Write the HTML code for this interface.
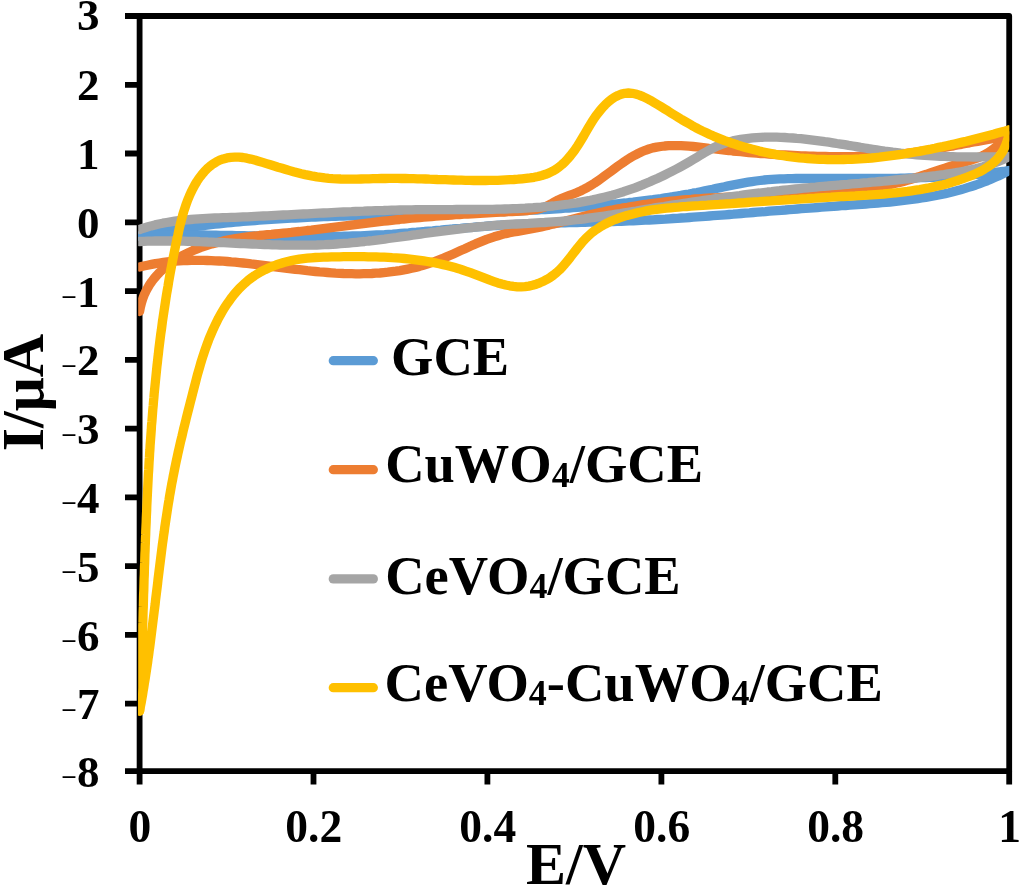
<!DOCTYPE html>
<html><head><meta charset="utf-8"><style>
html,body{margin:0;padding:0;background:#fff;}
svg{display:block;}
.t{font-family:"Liberation Serif",serif;font-weight:bold;font-size:45px;fill:#000;}
.tx{font-family:"Liberation Serif",serif;font-weight:bold;font-size:45.5px;fill:#000;}
.m{font-family:"Liberation Serif",serif;font-weight:bold;font-size:25px;fill:#000;}
.lg{font-family:"Liberation Serif",serif;font-weight:bold;font-size:54.5px;fill:#000;}
.sub{font-size:36px;}
.ti{font-family:"Liberation Serif",serif;font-weight:bold;font-size:60px;fill:#000;}
</style></head><body>
<svg width="1020" height="887" viewBox="0 0 1020 887">
<rect width="1020" height="887" fill="#fff"/>
<path d="M139.6,16.0 H1009.2 V771.1 H139.6 Z" fill="none" stroke="#000" stroke-width="5.8" stroke-linejoin="round"/>
<path d="M125,771.1 H139.6 M125,703.7 H139.6 M125,634.9 H139.6 M125,566.2 H139.6 M125,497.4 H139.6 M125,428.6 H139.6 M125,359.8 H139.6 M125,291.1 H139.6 M125,222.3 H139.6 M125,153.5 H139.6 M125,84.8 H139.6 M125,16.0 H139.6 M139.6,771.1 V784.5 M313.5,771.1 V784.5 M487.4,771.1 V784.5 M661.4,771.1 V784.5 M835.3,771.1 V784.5 M1009.2,771.1 V784.5" stroke="#000" stroke-width="5.8" fill="none"/>
<defs><clipPath id="pa"><rect x="138.2" y="16" width="871" height="755"/></clipPath></defs>
<g fill="none" stroke-width="9.3" stroke-linecap="round" stroke-linejoin="round" clip-path="url(#pa)">
<path d="M139.6,236.0 L143.5,235.2 L147.5,234.4 L151.4,233.6 L155.4,232.9 L159.3,232.2 L163.3,231.5 L167.3,230.8 L171.2,230.2 L175.2,229.5 L179.2,228.9 L183.1,228.3 L187.1,227.7 L191.1,227.2 L195.1,226.6 L199.0,226.1 L203.0,225.6 L207.0,225.1 L211.0,224.6 L215.0,224.2 L219.0,223.8 L223.0,223.3 L227.0,222.9 L231.0,222.5 L235.0,222.1 L239.0,221.8 L243.0,221.4 L247.0,221.1 L251.0,220.8 L255.0,220.5 L259.1,220.2 L263.1,219.9 L267.1,219.6 L271.1,219.3 L275.1,219.1 L279.1,218.8 L283.2,218.6 L287.2,218.4 L291.2,218.2 L295.2,218.0 L299.3,217.8 L303.3,217.6 L307.3,217.4 L311.3,217.2 L315.4,217.0 L319.4,216.9 L323.4,216.7 L327.5,216.6 L331.5,216.4 L335.5,216.3 L339.6,216.2 L343.6,216.0 L347.6,215.9 L351.6,215.8 L355.7,215.7 L359.7,215.6 L363.7,215.5 L367.8,215.4 L371.8,215.3 L375.8,215.2 L379.9,215.0 L383.9,214.9 L387.9,214.8 L392.0,214.8 L396.0,214.7 L400.0,214.6 L404.1,214.5 L408.1,214.4 L412.1,214.3 L416.1,214.2 L420.2,214.1 L424.2,214.0 L428.2,213.9 L432.3,213.8 L436.3,213.7 L440.3,213.6 L444.3,213.5 L448.4,213.4 L452.4,213.2 L456.4,213.1 L460.4,213.0 L464.5,212.9 L468.5,212.8 L472.5,212.6 L476.5,212.5 L480.6,212.4 L484.6,212.2 L488.6,212.1 L492.6,212.0 L496.6,211.8 L500.7,211.6 L504.7,211.5 L508.7,211.3 L512.7,211.1 L516.7,211.0 L520.8,210.8 L524.8,210.6 L528.8,210.4 L532.8,210.2 L536.8,210.0 L540.9,209.7 L544.9,209.5 L548.9,209.3 L552.9,209.0 L556.9,208.8 L560.9,208.5 L564.9,208.2 L569.0,208.0 L573.0,207.7 L577.0,207.4 L581.0,207.1 L585.0,206.8 L589.0,206.4 L593.0,206.1 L597.0,205.7 L601.0,205.4 L605.0,205.0 L609.0,204.6 L613.0,204.2 L617.0,203.8 L621.0,203.4 L625.1,203.0 L629.1,202.5 L633.1,202.1 L637.1,201.6 L641.1,201.1 L645.0,200.6 L649.0,200.1 L653.0,199.6 L657.0,199.0 L661.0,198.5 L665.0,197.9 L669.0,197.3 L673.0,196.7 L676.9,196.0 L680.9,195.4 L684.9,194.7 L688.9,194.0 L692.8,193.2 L696.8,192.5 L700.7,191.7 L704.7,190.9 L708.6,190.1 L712.6,189.3 L716.5,188.4 L720.5,187.6 L724.4,186.8 L728.3,185.9 L732.3,185.1 L736.2,184.4 L740.2,183.6 L744.1,182.9 L748.1,182.2 L752.0,181.6 L756.0,181.0 L760.0,180.5 L763.9,180.0 L767.9,179.7 L771.9,179.4 L775.9,179.1 L779.9,178.9 L784.0,178.8 L788.0,178.7 L792.0,178.6 L796.0,178.5 L800.1,178.5 L804.1,178.5 L808.1,178.5 L812.2,178.4 L816.2,178.4 L820.2,178.4 L824.2,178.4 L828.3,178.4 L832.3,178.4 L836.3,178.4 L840.4,178.4 L844.4,178.4 L848.4,178.5 L852.5,178.5 L856.5,178.5 L860.5,178.5 L864.6,178.5 L868.6,178.5 L872.6,178.4 L876.6,178.4 L880.7,178.4 L884.7,178.4 L888.7,178.3 L892.8,178.3 L896.8,178.3 L900.8,178.2 L904.8,178.1 L908.9,178.0 L912.9,177.9 L916.9,177.8 L920.9,177.7 L925.0,177.6 L929.0,177.4 L933.0,177.3 L937.0,177.1 L941.0,176.9 L945.1,176.7 L949.1,176.5 L953.1,176.2 L957.1,176.0 L961.1,175.7 L965.1,175.4 L969.1,175.1 L973.2,174.7 L977.2,174.3 L981.2,174.0 L985.2,173.5 L989.2,173.1 L993.2,172.6 L997.2,172.1 L1001.2,171.6 L1005.2,171.1 L1009.2,170.5" stroke="#5B9BD5" />
<path d="M1009.2,170.5 L1005.6,172.4 L1001.9,174.2 L998.3,176.0 L994.6,177.6 L990.9,179.2 L987.2,180.8 L983.4,182.2 L979.7,183.6 L975.9,185.0 L972.1,186.2 L968.3,187.4 L964.5,188.6 L960.7,189.7 L956.8,190.7 L953.0,191.7 L949.1,192.7 L945.2,193.6 L941.3,194.4 L937.4,195.2 L933.5,196.0 L929.6,196.7 L925.7,197.4 L921.7,198.0 L917.8,198.6 L913.8,199.2 L909.8,199.7 L905.8,200.2 L901.9,200.7 L897.9,201.2 L893.9,201.6 L889.9,202.0 L885.9,202.4 L881.9,202.7 L877.8,203.1 L873.8,203.4 L869.8,203.7 L865.8,204.0 L861.8,204.3 L857.7,204.6 L853.7,204.9 L849.7,205.2 L845.6,205.5 L841.6,205.7 L837.6,206.0 L833.6,206.3 L829.5,206.6 L825.5,206.9 L821.5,207.2 L817.5,207.5 L813.4,207.8 L809.4,208.1 L805.4,208.4 L801.4,208.7 L797.4,209.0 L793.4,209.3 L789.3,209.6 L785.3,210.0 L781.3,210.3 L777.3,210.6 L773.3,210.9 L769.3,211.2 L765.3,211.6 L761.3,211.9 L757.3,212.2 L753.3,212.5 L749.3,212.9 L745.3,213.2 L741.3,213.5 L737.3,213.8 L733.3,214.2 L729.3,214.5 L725.3,214.8 L721.3,215.1 L717.3,215.4 L713.3,215.7 L709.3,216.0 L705.3,216.3 L701.3,216.6 L697.3,216.9 L693.3,217.2 L689.3,217.5 L685.3,217.8 L681.3,218.0 L677.3,218.3 L673.3,218.5 L669.3,218.8 L665.3,219.1 L661.2,219.3 L657.2,219.5 L653.2,219.8 L649.2,220.0 L645.2,220.2 L641.2,220.4 L637.2,220.6 L633.2,220.8 L629.2,220.9 L625.2,221.1 L621.2,221.3 L617.2,221.4 L613.2,221.6 L609.2,221.7 L605.1,221.8 L601.1,221.9 L597.1,222.0 L593.1,222.1 L589.1,222.2 L585.1,222.3 L581.0,222.4 L577.0,222.5 L573.0,222.6 L569.0,222.7 L565.0,222.8 L561.0,222.9 L556.9,223.0 L552.9,223.1 L548.9,223.2 L544.9,223.3 L540.9,223.5 L536.8,223.6 L532.8,223.7 L528.8,223.9 L524.8,224.0 L520.8,224.2 L516.8,224.4 L512.8,224.6 L508.7,224.8 L504.7,225.0 L500.7,225.2 L496.7,225.5 L492.7,225.7 L488.7,226.0 L484.7,226.3 L480.7,226.6 L476.7,226.9 L472.7,227.3 L468.7,227.6 L464.6,227.9 L460.6,228.3 L456.6,228.6 L452.6,229.0 L448.6,229.3 L444.6,229.7 L440.6,230.1 L436.6,230.4 L432.6,230.8 L428.6,231.1 L424.6,231.5 L420.6,231.8 L416.6,232.2 L412.6,232.5 L408.6,232.9 L404.6,233.2 L400.6,233.5 L396.6,233.8 L392.6,234.1 L388.6,234.3 L384.6,234.6 L380.6,234.8 L376.6,235.0 L372.6,235.2 L368.6,235.4 L364.5,235.6 L360.5,235.8 L356.5,235.9 L352.5,236.0 L348.5,236.1 L344.5,236.2 L340.5,236.3 L336.5,236.4 L332.5,236.5 L328.4,236.5 L324.4,236.6 L320.4,236.6 L316.4,236.6 L312.4,236.6 L308.4,236.6 L304.3,236.6 L300.3,236.6 L296.3,236.6 L292.3,236.5 L288.3,236.5 L284.2,236.4 L280.2,236.4 L276.2,236.3 L272.2,236.3 L268.2,236.2 L264.1,236.1 L260.1,236.1 L256.1,236.0 L252.1,235.9 L248.1,235.8 L244.0,235.7 L240.0,235.7 L236.0,235.6 L232.0,235.5 L228.0,235.4 L223.9,235.3 L219.9,235.3 L215.9,235.2 L211.9,235.1 L207.9,235.1 L203.9,235.0 L199.8,235.0 L195.8,234.9 L191.8,234.9 L187.8,234.9 L183.8,234.9 L179.7,234.9 L175.7,234.9 L171.7,234.9 L167.7,235.0 L163.7,235.1 L159.7,235.2 L155.7,235.3 L151.6,235.4 L147.6,235.6 L143.6,235.8 L139.6,236.0" stroke="#5B9BD5" />
<path d="M139.6,311.5 L140.4,307.2 L141.4,303.1 L142.6,299.1 L144.0,295.3 L145.7,291.7 L147.6,288.1 L149.6,284.7 L151.8,281.5 L154.2,278.4 L156.8,275.4 L159.5,272.5 L162.3,269.8 L165.3,267.2 L168.4,264.7 L171.6,262.4 L174.9,260.1 L178.3,258.0 L181.8,256.0 L185.4,254.2 L189.0,252.4 L192.7,250.7 L196.5,249.2 L200.2,247.7 L204.1,246.4 L207.9,245.1 L211.8,243.9 L215.7,242.9 L219.7,241.9 L223.6,240.9 L227.6,240.1 L231.6,239.3 L235.6,238.6 L239.5,238.0 L243.5,237.4 L247.5,236.9 L251.5,236.4 L255.4,236.0 L259.4,235.5 L263.4,235.1 L267.4,234.7 L271.4,234.4 L275.3,234.0 L279.3,233.6 L283.3,233.2 L287.3,232.8 L291.3,232.4 L295.3,231.9 L299.3,231.5 L303.3,231.0 L307.3,230.5 L311.3,230.1 L315.3,229.6 L319.3,229.1 L323.3,228.6 L327.3,228.1 L331.3,227.6 L335.3,227.1 L339.3,226.6 L343.3,226.1 L347.3,225.6 L351.3,225.1 L355.3,224.6 L359.3,224.1 L363.4,223.6 L367.4,223.1 L371.4,222.7 L375.4,222.2 L379.4,221.7 L383.4,221.2 L387.4,220.8 L391.5,220.3 L395.5,219.9 L399.5,219.5 L403.5,219.0 L407.5,218.6 L411.5,218.2 L415.6,217.8 L419.6,217.5 L423.6,217.1 L427.6,216.8 L431.6,216.5 L435.6,216.1 L439.6,215.8 L443.7,215.6 L447.7,215.3 L451.7,215.0 L455.7,214.7 L459.7,214.5 L463.7,214.2 L467.8,214.0 L471.8,213.8 L475.8,213.5 L479.8,213.3 L483.8,213.1 L487.9,212.8 L491.9,212.6 L495.9,212.4 L499.9,212.2 L503.9,212.0 L508.0,211.7 L512.0,211.5 L516.0,211.3 L520.1,211.0 L524.1,210.8 L528.1,210.5 L532.1,210.0 L536.0,209.4 L539.9,208.5 L543.7,207.4 L547.4,205.8 L551.0,203.9 L554.6,201.8 L558.2,199.9 L561.9,198.3 L565.7,196.8 L569.4,195.4 L573.2,194.0 L576.9,192.6 L580.5,191.0 L584.1,189.2 L587.6,187.3 L591.1,185.2 L594.5,183.1 L597.9,180.8 L601.2,178.5 L604.5,176.1 L607.8,173.6 L611.1,171.2 L614.4,168.7 L617.7,166.3 L621.0,164.0 L624.4,161.6 L627.7,159.4 L631.1,157.3 L634.6,155.3 L638.1,153.5 L641.7,151.8 L645.3,150.3 L649.0,149.0 L652.8,147.9 L656.7,147.1 L660.7,146.5 L664.7,146.0 L668.7,145.7 L672.8,145.6 L676.9,145.6 L681.0,145.7 L685.1,145.9 L689.1,146.2 L693.1,146.5 L697.1,146.9 L701.1,147.3 L705.1,147.8 L709.0,148.3 L713.0,148.7 L716.9,149.2 L720.9,149.7 L724.8,150.1 L728.8,150.5 L732.8,151.0 L736.8,151.4 L740.8,151.7 L744.8,152.1 L748.8,152.5 L752.8,152.8 L756.8,153.1 L760.9,153.5 L764.9,153.7 L768.9,154.0 L773.0,154.3 L777.0,154.6 L781.0,154.8 L785.1,155.0 L789.1,155.2 L793.2,155.4 L797.2,155.6 L801.2,155.8 L805.3,155.9 L809.3,156.1 L813.4,156.2 L817.4,156.3 L821.4,156.4 L825.5,156.5 L829.5,156.6 L833.5,156.6 L837.6,156.6 L841.6,156.7 L845.6,156.6 L849.6,156.6 L853.7,156.6 L857.7,156.5 L861.7,156.4 L865.7,156.3 L869.7,156.1 L873.7,155.9 L877.7,155.7 L881.7,155.5 L885.8,155.2 L889.8,154.9 L893.8,154.6 L897.8,154.2 L901.8,153.8 L905.8,153.4 L909.8,152.9 L913.8,152.4 L917.7,151.8 L921.7,151.2 L925.7,150.6 L929.7,150.0 L933.7,149.3 L937.7,148.6 L941.7,147.9 L945.7,147.2 L949.6,146.5 L953.6,145.8 L957.6,145.0 L961.6,144.3 L965.5,143.5 L969.5,142.8 L973.5,142.0 L977.5,141.3 L981.4,140.6 L985.4,139.9 L989.4,139.2 L993.3,138.5 L997.3,137.8 L1001.3,137.2 L1005.2,136.6 L1009.2,136.0" stroke="#ED7D31" />
<path d="M1009.2,136.0 L1006.1,138.6 L1003.0,141.2 L999.9,143.8 L996.7,146.4 L993.5,148.9 L990.3,151.3 L986.9,153.4 L983.5,155.3 L979.9,156.9 L976.2,158.4 L972.4,159.7 L968.6,160.8 L964.8,162.0 L960.9,163.1 L957.1,164.2 L953.2,165.4 L949.4,166.6 L945.6,167.9 L941.7,169.1 L937.9,170.4 L934.1,171.7 L930.3,173.0 L926.5,174.3 L922.6,175.5 L918.8,176.8 L915.0,178.0 L911.1,179.2 L907.3,180.3 L903.4,181.4 L899.5,182.4 L895.6,183.3 L891.7,184.2 L887.7,185.1 L883.8,185.8 L879.8,186.6 L875.9,187.2 L871.9,187.9 L867.9,188.5 L864.0,189.0 L860.0,189.6 L856.0,190.1 L852.0,190.5 L848.0,191.0 L844.0,191.4 L840.0,191.8 L836.0,192.1 L832.0,192.5 L828.0,192.8 L824.0,193.1 L820.0,193.4 L816.0,193.6 L812.0,193.9 L808.0,194.1 L804.0,194.3 L799.9,194.5 L795.9,194.7 L791.9,194.9 L787.9,195.0 L783.9,195.2 L779.8,195.3 L775.8,195.5 L771.8,195.6 L767.8,195.7 L763.7,195.9 L759.7,196.0 L755.7,196.1 L751.7,196.3 L747.6,196.4 L743.6,196.5 L739.6,196.7 L735.6,196.8 L731.5,197.0 L727.5,197.2 L723.5,197.4 L719.5,197.6 L715.4,197.8 L711.4,198.0 L707.4,198.2 L703.4,198.5 L699.3,198.8 L695.3,199.0 L691.3,199.4 L687.3,199.7 L683.3,200.0 L679.3,200.4 L675.3,200.8 L671.3,201.2 L667.2,201.7 L663.2,202.1 L659.2,202.6 L655.3,203.1 L651.3,203.6 L647.3,204.2 L643.3,204.7 L639.3,205.3 L635.3,206.0 L631.4,206.6 L627.4,207.3 L623.4,207.9 L619.5,208.7 L615.5,209.4 L611.6,210.2 L607.6,210.9 L603.7,211.8 L599.8,212.6 L595.8,213.5 L591.9,214.4 L588.0,215.3 L584.1,216.2 L580.2,217.2 L576.3,218.2 L572.4,219.2 L568.5,220.2 L564.6,221.2 L560.7,222.2 L556.8,223.2 L552.9,224.1 L549.0,225.1 L545.1,226.0 L541.2,226.9 L537.3,227.7 L533.3,228.5 L529.4,229.2 L525.4,229.9 L521.4,230.6 L517.5,231.3 L513.5,232.0 L509.6,232.8 L505.7,233.6 L501.8,234.6 L498.0,235.7 L494.2,236.8 L490.4,238.1 L486.6,239.4 L482.9,240.9 L479.2,242.4 L475.5,243.9 L471.8,245.6 L468.1,247.2 L464.4,248.9 L460.7,250.5 L457.0,252.2 L453.3,253.9 L449.7,255.5 L445.9,257.1 L442.2,258.7 L438.5,260.1 L434.7,261.6 L430.9,262.9 L427.1,264.1 L423.2,265.3 L419.4,266.4 L415.5,267.4 L411.6,268.3 L407.7,269.1 L403.7,269.9 L399.8,270.6 L395.8,271.2 L391.8,271.7 L387.8,272.2 L383.8,272.6 L379.8,273.0 L375.8,273.2 L371.8,273.5 L367.7,273.6 L363.7,273.7 L359.7,273.8 L355.7,273.8 L351.7,273.7 L347.6,273.6 L343.6,273.5 L339.6,273.3 L335.6,273.1 L331.6,272.8 L327.5,272.5 L323.5,272.2 L319.5,271.9 L315.5,271.5 L311.5,271.1 L307.4,270.7 L303.4,270.2 L299.4,269.7 L295.4,269.3 L291.4,268.8 L287.3,268.3 L283.3,267.8 L279.3,267.3 L275.3,266.8 L271.3,266.3 L267.3,265.8 L263.3,265.3 L259.3,264.8 L255.2,264.3 L251.2,263.9 L247.2,263.4 L243.2,263.0 L239.2,262.6 L235.2,262.2 L231.2,261.9 L227.2,261.5 L223.2,261.2 L219.2,261.0 L215.2,260.8 L211.2,260.6 L207.2,260.5 L203.2,260.4 L199.2,260.3 L195.3,260.3 L191.3,260.4 L187.3,260.5 L183.3,260.7 L179.3,260.9 L175.3,261.2 L171.4,261.5 L167.4,261.9 L163.4,262.4 L159.4,263.0 L155.5,263.6 L151.5,264.4 L147.5,265.2 L143.6,266.0 L139.6,267.0" stroke="#ED7D31" />
<path d="M139.6,229.5 L143.4,228.2 L147.3,227.0 L151.1,225.9 L155.0,224.9 L158.9,224.0 L162.8,223.2 L166.8,222.5 L170.7,221.8 L174.7,221.2 L178.7,220.7 L182.7,220.3 L186.7,219.8 L190.7,219.5 L194.7,219.2 L198.7,218.9 L202.8,218.6 L206.8,218.4 L210.9,218.2 L214.9,218.0 L219.0,217.9 L223.0,217.7 L227.1,217.6 L231.1,217.4 L235.1,217.3 L239.2,217.1 L243.2,216.9 L247.3,216.8 L251.3,216.6 L255.3,216.4 L259.3,216.2 L263.4,216.0 L267.4,215.8 L271.4,215.6 L275.4,215.4 L279.4,215.2 L283.4,215.0 L287.5,214.8 L291.5,214.6 L295.5,214.4 L299.5,214.2 L303.5,214.0 L307.5,213.8 L311.5,213.6 L315.5,213.4 L319.5,213.2 L323.5,213.0 L327.5,212.8 L331.5,212.6 L335.5,212.4 L339.5,212.2 L343.5,212.0 L347.5,211.8 L351.5,211.7 L355.5,211.5 L359.5,211.3 L363.6,211.2 L367.6,211.0 L371.6,210.9 L375.6,210.7 L379.6,210.6 L383.6,210.5 L387.6,210.3 L391.6,210.2 L395.7,210.1 L399.7,210.0 L403.7,209.9 L407.7,209.9 L411.8,209.8 L415.8,209.7 L419.8,209.7 L423.9,209.6 L427.9,209.6 L432.0,209.6 L436.0,209.6 L440.1,209.6 L444.1,209.6 L448.2,209.6 L452.2,209.6 L456.3,209.5 L460.3,209.5 L464.4,209.5 L468.5,209.5 L472.5,209.5 L476.6,209.5 L480.6,209.4 L484.7,209.4 L488.7,209.4 L492.8,209.3 L496.8,209.2 L500.9,209.1 L504.9,209.0 L508.9,208.9 L513.0,208.7 L517.0,208.6 L521.0,208.4 L525.1,208.2 L529.1,207.9 L533.1,207.7 L537.1,207.4 L541.1,207.1 L545.1,206.7 L549.1,206.4 L553.1,206.0 L557.1,205.5 L561.1,205.0 L565.0,204.5 L569.0,204.0 L572.9,203.4 L576.9,202.8 L580.8,202.1 L584.7,201.4 L588.7,200.7 L592.6,199.9 L596.5,199.0 L600.4,198.1 L604.2,197.2 L608.1,196.2 L612.0,195.2 L615.8,194.1 L619.7,192.9 L623.5,191.7 L627.3,190.4 L631.1,189.1 L634.9,187.8 L638.7,186.3 L642.4,184.9 L646.2,183.3 L649.9,181.8 L653.6,180.1 L657.3,178.5 L661.0,176.8 L664.7,175.0 L668.3,173.2 L671.9,171.4 L675.5,169.5 L679.1,167.6 L682.7,165.6 L686.2,163.6 L689.7,161.6 L693.2,159.5 L696.7,157.4 L700.2,155.3 L703.6,153.2 L707.1,151.2 L710.6,149.3 L714.2,147.5 L717.8,145.8 L721.5,144.4 L725.2,143.1 L729.0,141.9 L732.8,140.9 L736.7,140.1 L740.6,139.4 L744.6,138.8 L748.6,138.3 L752.5,137.9 L756.6,137.6 L760.6,137.4 L764.6,137.2 L768.6,137.2 L772.7,137.2 L776.7,137.2 L780.7,137.4 L784.7,137.5 L788.7,137.8 L792.7,138.0 L796.7,138.4 L800.8,138.7 L804.8,139.1 L808.8,139.6 L812.8,140.1 L816.8,140.6 L820.8,141.1 L824.8,141.7 L828.8,142.2 L832.8,142.8 L836.8,143.5 L840.8,144.1 L844.8,144.7 L848.7,145.4 L852.7,146.0 L856.7,146.7 L860.7,147.4 L864.7,148.0 L868.7,148.7 L872.7,149.3 L876.7,149.9 L880.7,150.5 L884.7,151.1 L888.7,151.6 L892.7,152.2 L896.7,152.7 L900.7,153.2 L904.7,153.6 L908.7,154.0 L912.7,154.4 L916.7,154.8 L920.7,155.1 L924.7,155.4 L928.7,155.6 L932.8,155.9 L936.8,156.1 L940.8,156.3 L944.8,156.4 L948.8,156.6 L952.8,156.7 L956.9,156.8 L960.9,156.8 L964.9,156.9 L968.9,156.9 L972.9,157.0 L977.0,157.0 L981.0,156.9 L985.0,156.9 L989.0,156.9 L993.1,156.8 L997.1,156.8 L1001.1,156.7 L1005.2,156.6 L1009.2,156.5" stroke="#A5A5A5" />
<path d="M1009.2,156.5 L1005.6,158.3 L1002.0,159.9 L998.3,161.4 L994.5,162.9 L990.8,164.2 L987.0,165.4 L983.2,166.6 L979.4,167.7 L975.5,168.7 L971.6,169.6 L967.7,170.4 L963.8,171.2 L959.8,172.0 L955.9,172.7 L951.9,173.3 L947.9,173.9 L943.9,174.5 L939.9,175.0 L935.9,175.6 L931.9,176.1 L927.9,176.6 L923.9,177.0 L919.9,177.5 L915.9,178.0 L911.9,178.4 L907.9,178.8 L903.9,179.2 L899.9,179.6 L895.9,180.0 L891.9,180.4 L887.8,180.8 L883.8,181.2 L879.8,181.5 L875.8,181.9 L871.8,182.2 L867.8,182.6 L863.8,182.9 L859.7,183.3 L855.7,183.6 L851.7,183.9 L847.7,184.3 L843.7,184.6 L839.7,185.0 L835.7,185.3 L831.7,185.6 L827.6,186.0 L823.6,186.3 L819.6,186.7 L815.6,187.1 L811.6,187.4 L807.6,187.8 L803.6,188.2 L799.6,188.6 L795.6,189.0 L791.6,189.4 L787.6,189.8 L783.6,190.2 L779.6,190.7 L775.6,191.1 L771.6,191.6 L767.6,192.0 L763.6,192.5 L759.6,193.0 L755.6,193.4 L751.6,193.9 L747.6,194.4 L743.7,194.9 L739.7,195.5 L735.7,196.0 L731.7,196.5 L727.7,197.0 L723.7,197.6 L719.7,198.1 L715.8,198.7 L711.8,199.3 L707.8,199.8 L703.8,200.4 L699.8,201.0 L695.9,201.6 L691.9,202.2 L687.9,202.8 L683.9,203.4 L680.0,204.0 L676.0,204.6 L672.0,205.2 L668.0,205.8 L664.1,206.5 L660.1,207.1 L656.1,207.7 L652.2,208.4 L648.2,209.0 L644.2,209.7 L640.2,210.3 L636.3,211.0 L632.3,211.6 L628.3,212.3 L624.4,212.9 L620.4,213.6 L616.4,214.2 L612.4,214.8 L608.5,215.4 L604.5,216.0 L600.5,216.6 L596.5,217.2 L592.6,217.7 L588.6,218.2 L584.6,218.8 L580.6,219.3 L576.6,219.7 L572.6,220.2 L568.6,220.6 L564.6,221.0 L560.6,221.3 L556.6,221.6 L552.6,221.9 L548.6,222.2 L544.6,222.5 L540.6,222.7 L536.6,222.9 L532.5,223.1 L528.5,223.4 L524.5,223.6 L520.5,223.8 L516.5,224.0 L512.4,224.2 L508.4,224.4 L504.4,224.7 L500.4,225.0 L496.4,225.2 L492.4,225.6 L488.4,225.9 L484.4,226.3 L480.4,226.6 L476.4,227.0 L472.4,227.5 L468.4,227.9 L464.4,228.3 L460.4,228.8 L456.4,229.3 L452.4,229.8 L448.4,230.3 L444.4,230.8 L440.4,231.3 L436.4,231.9 L432.4,232.4 L428.4,233.0 L424.5,233.5 L420.5,234.1 L416.5,234.7 L412.5,235.2 L408.5,235.8 L404.5,236.3 L400.5,236.9 L396.5,237.5 L392.5,238.0 L388.6,238.5 L384.6,239.1 L380.6,239.6 L376.6,240.1 L372.6,240.6 L368.6,241.0 L364.6,241.5 L360.6,241.9 L356.6,242.3 L352.6,242.7 L348.6,243.1 L344.6,243.4 L340.6,243.7 L336.6,244.0 L332.6,244.3 L328.6,244.5 L324.6,244.7 L320.6,244.8 L316.6,245.0 L312.6,245.1 L308.6,245.1 L304.5,245.2 L300.5,245.2 L296.5,245.2 L292.5,245.2 L288.5,245.1 L284.5,245.1 L280.4,245.0 L276.4,244.9 L272.4,244.8 L268.4,244.6 L264.3,244.5 L260.3,244.3 L256.3,244.2 L252.3,244.0 L248.2,243.8 L244.2,243.6 L240.2,243.5 L236.2,243.3 L232.1,243.1 L228.1,242.9 L224.1,242.7 L220.1,242.5 L216.0,242.3 L212.0,242.1 L208.0,242.0 L203.9,241.8 L199.9,241.7 L195.9,241.5 L191.9,241.4 L187.8,241.3 L183.8,241.2 L179.8,241.1 L175.8,241.0 L171.7,241.0 L167.7,241.0 L163.7,241.0 L159.7,241.0 L155.7,241.0 L151.6,241.1 L147.6,241.2 L143.6,241.3 L139.6,241.5" stroke="#A5A5A5" />
<path d="M139.6,711.0 L139.8,707.0 L139.9,703.0 L140.1,699.0 L140.3,695.0 L140.4,691.0 L140.6,687.0 L140.7,683.0 L140.9,679.0 L141.0,675.0 L141.2,670.9 L141.3,666.9 L141.5,662.9 L141.6,658.9 L141.7,654.9 L141.9,650.9 L142.0,646.9 L142.1,642.8 L142.3,638.8 L142.4,634.8 L142.5,630.8 L142.6,626.8 L142.8,622.7 L142.9,618.7 L143.0,614.7 L143.1,610.7 L143.3,606.7 L143.4,602.6 L143.5,598.6 L143.6,594.6 L143.8,590.6 L143.9,586.5 L144.0,582.5 L144.1,578.5 L144.3,574.5 L144.4,570.4 L144.5,566.4 L144.7,562.4 L144.8,558.4 L144.9,554.3 L145.1,550.3 L145.2,546.3 L145.4,542.2 L145.5,538.2 L145.7,534.2 L145.8,530.2 L146.0,526.1 L146.2,522.1 L146.3,518.1 L146.5,514.1 L146.7,510.0 L146.8,506.0 L147.0,502.0 L147.2,498.0 L147.4,493.9 L147.6,489.9 L147.8,485.9 L148.0,481.9 L148.2,477.9 L148.4,473.8 L148.7,469.8 L148.9,465.8 L149.1,461.8 L149.4,457.8 L149.6,453.7 L149.9,449.7 L150.1,445.7 L150.4,441.7 L150.7,437.7 L151.0,433.7 L151.3,429.7 L151.5,425.6 L151.9,421.6 L152.2,417.6 L152.5,413.6 L152.8,409.6 L153.2,405.6 L153.5,401.6 L153.9,397.6 L154.2,393.6 L154.6,389.6 L155.0,385.6 L155.4,381.6 L155.8,377.6 L156.2,373.6 L156.6,369.6 L157.0,365.6 L157.5,361.6 L157.9,357.6 L158.4,353.7 L158.8,349.7 L159.3,345.7 L159.8,341.7 L160.3,337.7 L160.8,333.7 L161.4,329.8 L161.9,325.8 L162.4,321.8 L163.0,317.9 L163.6,313.9 L164.2,309.9 L164.8,306.0 L165.4,302.0 L166.0,298.0 L166.6,294.1 L167.3,290.1 L168.0,286.2 L168.6,282.2 L169.3,278.3 L170.0,274.3 L170.7,270.4 L171.5,266.4 L172.2,262.5 L173.0,258.5 L173.8,254.6 L174.6,250.7 L175.4,246.7 L176.2,242.8 L177.0,238.9 L177.9,235.0 L178.7,231.1 L179.6,227.1 L180.6,223.2 L181.6,219.3 L182.6,215.4 L183.7,211.6 L185.0,207.7 L186.3,203.8 L187.7,200.0 L189.3,196.2 L191.0,192.4 L192.8,188.7 L194.8,185.0 L196.9,181.5 L199.2,178.0 L201.7,174.8 L204.3,171.7 L207.0,168.8 L210.0,166.2 L213.0,163.9 L216.3,161.9 L219.7,160.2 L223.3,158.9 L227.0,157.9 L230.9,157.3 L234.8,157.1 L238.8,157.1 L242.8,157.5 L246.7,158.2 L250.7,159.1 L254.7,160.1 L258.6,161.2 L262.6,162.4 L266.5,163.6 L270.4,164.8 L274.3,166.0 L278.1,167.2 L282.0,168.3 L285.9,169.5 L289.7,170.6 L293.6,171.7 L297.5,172.7 L301.3,173.7 L305.2,174.6 L309.1,175.4 L313.0,176.2 L316.9,176.9 L320.9,177.4 L324.8,177.9 L328.8,178.3 L332.8,178.6 L336.8,178.8 L340.8,179.0 L344.8,179.1 L348.8,179.1 L352.9,179.1 L356.9,179.1 L361.0,179.0 L365.0,178.9 L369.1,178.8 L373.1,178.7 L377.2,178.6 L381.2,178.5 L385.3,178.5 L389.3,178.4 L393.4,178.4 L397.4,178.4 L401.4,178.5 L405.5,178.5 L409.5,178.6 L413.5,178.7 L417.5,178.8 L421.5,178.9 L425.5,179.0 L429.5,179.2 L433.5,179.3 L437.5,179.5 L441.5,179.6 L445.5,179.7 L449.5,179.9 L453.5,180.0 L457.5,180.1 L461.5,180.2 L465.5,180.3 L469.6,180.4 L473.6,180.5 L477.6,180.5 L481.6,180.5 L485.6,180.5 L489.6,180.4 L493.6,180.4 L497.7,180.3 L501.7,180.1 L505.7,179.9 L509.8,179.7 L513.8,179.5 L517.9,179.2 L522.0,178.8 L526.0,178.4 L530.1,177.9 L534.1,177.3 L538.0,176.5 L541.8,175.5 L545.6,174.3 L549.2,172.9 L552.6,171.2 L556.0,169.2 L559.1,167.0 L562.1,164.5 L565.0,161.8 L567.7,158.9 L570.3,155.9 L572.8,152.7 L575.2,149.4 L577.5,146.0 L579.7,142.5 L581.8,139.0 L583.9,135.5 L585.9,131.9 L588.0,128.3 L590.1,124.8 L592.3,121.3 L594.6,117.8 L597.1,114.3 L599.7,111.0 L602.4,107.7 L605.3,104.7 L608.3,101.9 L611.4,99.4 L614.7,97.2 L618.0,95.5 L621.4,94.1 L624.9,93.3 L628.4,93.0 L632.0,93.3 L635.6,94.0 L639.3,95.1 L643.0,96.6 L646.7,98.4 L650.4,100.3 L654.0,102.4 L657.6,104.6 L661.2,106.8 L664.7,109.0 L668.2,111.1 L671.6,113.3 L675.0,115.4 L678.4,117.5 L681.8,119.6 L685.3,121.6 L688.7,123.6 L692.1,125.6 L695.6,127.5 L699.1,129.3 L702.7,131.1 L706.3,132.8 L709.9,134.5 L713.5,136.1 L717.2,137.6 L720.9,139.1 L724.7,140.6 L728.5,141.9 L732.2,143.3 L736.1,144.5 L739.9,145.8 L743.8,146.9 L747.7,148.0 L751.6,149.1 L755.5,150.1 L759.4,151.1 L763.4,152.0 L767.3,152.8 L771.3,153.6 L775.3,154.4 L779.3,155.1 L783.3,155.7 L787.3,156.3 L791.3,156.8 L795.4,157.3 L799.4,157.8 L803.4,158.2 L807.5,158.5 L811.5,158.8 L815.5,159.1 L819.6,159.3 L823.6,159.4 L827.6,159.6 L831.6,159.6 L835.6,159.6 L839.6,159.6 L843.6,159.5 L847.6,159.4 L851.6,159.3 L855.6,159.1 L859.6,158.9 L863.6,158.6 L867.6,158.3 L871.6,158.0 L875.6,157.6 L879.5,157.2 L883.5,156.7 L887.5,156.2 L891.5,155.7 L895.4,155.2 L899.4,154.6 L903.3,154.0 L907.3,153.4 L911.2,152.7 L915.2,152.0 L919.1,151.3 L923.1,150.6 L927.0,149.8 L931.0,149.1 L934.9,148.3 L938.8,147.4 L942.8,146.6 L946.7,145.7 L950.6,144.9 L954.5,144.0 L958.5,143.0 L962.4,142.1 L966.3,141.2 L970.2,140.2 L974.1,139.2 L978.0,138.2 L981.9,137.2 L985.8,136.2 L989.7,135.2 L993.6,134.2 L997.5,133.1 L1001.4,132.1 L1005.3,131.1 L1009.2,130.0" stroke="#FFC000" />
<path d="M1009.2,130.0 L1008.7,134.5 L1007.8,138.7 L1006.6,142.8 L1005.1,146.6 L1003.4,150.2 L1001.3,153.6 L999.0,156.7 L996.4,159.7 L993.7,162.4 L990.7,164.9 L987.5,167.1 L984.2,169.2 L980.8,171.2 L977.2,172.9 L973.6,174.6 L969.8,176.1 L966.1,177.5 L962.3,178.9 L958.5,180.2 L954.7,181.4 L950.9,182.6 L947.0,183.7 L943.1,184.7 L939.2,185.6 L935.3,186.5 L931.4,187.4 L927.5,188.2 L923.5,188.9 L919.6,189.6 L915.6,190.2 L911.6,190.8 L907.6,191.4 L903.6,191.9 L899.6,192.4 L895.6,192.8 L891.6,193.2 L887.6,193.6 L883.5,194.0 L879.5,194.3 L875.5,194.6 L871.4,194.9 L867.4,195.2 L863.3,195.4 L859.3,195.6 L855.2,195.9 L851.2,196.1 L847.1,196.3 L843.1,196.5 L839.1,196.7 L835.0,196.9 L831.0,197.2 L827.0,197.4 L823.0,197.6 L818.9,197.8 L814.9,198.1 L810.9,198.3 L806.9,198.6 L802.9,198.8 L798.9,199.1 L794.9,199.3 L790.9,199.6 L787.0,199.8 L783.0,200.1 L779.0,200.3 L775.0,200.6 L771.0,200.9 L767.0,201.1 L763.0,201.4 L759.0,201.7 L755.1,201.9 L751.1,202.2 L747.1,202.5 L743.1,202.8 L739.1,203.0 L735.1,203.3 L731.1,203.6 L727.1,203.8 L723.1,204.1 L719.0,204.4 L715.0,204.6 L711.0,204.9 L707.0,205.2 L702.9,205.4 L698.9,205.7 L694.8,205.9 L690.8,206.2 L686.7,206.5 L682.7,206.7 L678.6,207.1 L674.6,207.4 L670.6,207.8 L666.5,208.2 L662.5,208.6 L658.5,209.1 L654.5,209.6 L650.5,210.2 L646.5,210.9 L642.6,211.7 L638.7,212.5 L634.8,213.4 L630.9,214.4 L627.0,215.4 L623.2,216.6 L619.4,217.9 L615.7,219.3 L612.0,220.8 L608.4,222.5 L604.9,224.2 L601.4,226.2 L598.1,228.3 L594.8,230.5 L591.7,232.9 L588.7,235.6 L585.8,238.3 L583.0,241.3 L580.4,244.4 L577.8,247.6 L575.3,250.9 L572.7,254.2 L570.2,257.5 L567.6,260.7 L565.0,263.9 L562.3,267.0 L559.5,269.9 L556.5,272.6 L553.4,275.1 L550.2,277.4 L546.8,279.4 L543.4,281.3 L539.8,282.8 L536.2,284.2 L532.5,285.3 L528.8,286.1 L525.0,286.6 L521.2,286.8 L517.3,286.8 L513.5,286.4 L509.6,285.8 L505.7,285.0 L501.8,284.0 L497.9,282.9 L494.0,281.6 L490.0,280.2 L486.1,278.7 L482.2,277.2 L478.3,275.7 L474.3,274.2 L470.4,272.7 L466.5,271.3 L462.6,270.0 L458.7,268.7 L454.8,267.6 L450.9,266.5 L447.0,265.5 L443.1,264.6 L439.3,263.7 L435.4,262.9 L431.5,262.2 L427.6,261.5 L423.7,260.9 L419.8,260.3 L415.9,259.8 L412.0,259.3 L408.0,258.9 L404.1,258.5 L400.1,258.2 L396.2,257.9 L392.2,257.7 L388.2,257.4 L384.2,257.2 L380.2,257.1 L376.2,256.9 L372.1,256.8 L368.1,256.8 L364.0,256.7 L359.9,256.7 L355.9,256.6 L351.8,256.7 L347.7,256.7 L343.7,256.7 L339.6,256.8 L335.5,256.9 L331.5,256.9 L327.5,257.1 L323.4,257.2 L319.4,257.3 L315.4,257.5 L311.4,257.8 L307.4,258.2 L303.4,258.6 L299.4,259.1 L295.4,259.8 L291.5,260.6 L287.6,261.5 L283.7,262.5 L279.8,263.7 L276.0,265.0 L272.3,266.4 L268.6,268.0 L265.0,269.7 L261.4,271.5 L258.0,273.5 L254.6,275.6 L251.4,277.9 L248.2,280.3 L245.2,282.9 L242.3,285.6 L239.4,288.4 L236.7,291.4 L234.1,294.4 L231.6,297.6 L229.2,300.9 L226.9,304.2 L224.6,307.6 L222.5,311.1 L220.5,314.6 L218.5,318.2 L216.7,321.8 L214.9,325.5 L213.2,329.2 L211.6,332.9 L210.0,336.6 L208.5,340.3 L207.1,344.1 L205.8,347.8 L204.5,351.6 L203.2,355.4 L202.0,359.2 L200.8,363.0 L199.7,366.9 L198.6,370.7 L197.5,374.6 L196.5,378.4 L195.5,382.3 L194.5,386.2 L193.5,390.0 L192.5,393.9 L191.5,397.8 L190.5,401.7 L189.5,405.6 L188.5,409.5 L187.5,413.4 L186.5,417.3 L185.6,421.2 L184.6,425.1 L183.6,429.0 L182.7,433.0 L181.8,436.9 L180.8,440.8 L179.9,444.7 L179.0,448.7 L178.1,452.6 L177.3,456.5 L176.4,460.5 L175.6,464.4 L174.8,468.3 L174.0,472.3 L173.2,476.2 L172.5,480.2 L171.7,484.2 L171.0,488.1 L170.3,492.1 L169.6,496.0 L169.0,500.0 L168.3,504.0 L167.7,507.9 L167.1,511.9 L166.5,515.9 L165.9,519.8 L165.3,523.8 L164.7,527.8 L164.2,531.8 L163.6,535.8 L163.1,539.7 L162.5,543.7 L162.0,547.7 L161.5,551.7 L161.0,555.7 L160.5,559.7 L160.0,563.7 L159.5,567.6 L159.0,571.6 L158.5,575.6 L158.0,579.6 L157.6,583.6 L157.1,587.6 L156.6,591.6 L156.1,595.6 L155.6,599.6 L155.2,603.6 L154.7,607.6 L154.2,611.5 L153.7,615.5 L153.2,619.5 L152.7,623.5 L152.2,627.5 L151.7,631.5 L151.2,635.5 L150.7,639.5 L150.2,643.5 L149.7,647.4 L149.1,651.4 L148.6,655.4 L148.0,659.4 L147.5,663.4 L146.9,667.4 L146.3,671.3 L145.7,675.3 L145.1,679.3 L144.4,683.3 L143.8,687.2 L143.1,691.2 L142.5,695.2 L141.8,699.1 L141.1,703.1 L140.3,707.0 L139.6,711.0" stroke="#FFC000" />
</g>
<text x="99.4" y="786.7" text-anchor="end" class="t">8</text>
<text x="62.8" y="783.0" class="m">&#8211;</text>
<text x="99.4" y="719.3" text-anchor="end" class="t">7</text>
<text x="62.8" y="715.6" class="m">&#8211;</text>
<text x="99.4" y="650.5" text-anchor="end" class="t">6</text>
<text x="62.8" y="646.8" class="m">&#8211;</text>
<text x="99.4" y="581.8" text-anchor="end" class="t">5</text>
<text x="62.8" y="578.1" class="m">&#8211;</text>
<text x="99.4" y="513.0" text-anchor="end" class="t">4</text>
<text x="62.8" y="509.3" class="m">&#8211;</text>
<text x="99.4" y="444.2" text-anchor="end" class="t">3</text>
<text x="62.8" y="440.5" class="m">&#8211;</text>
<text x="99.4" y="375.4" text-anchor="end" class="t">2</text>
<text x="62.8" y="371.7" class="m">&#8211;</text>
<text x="99.4" y="306.7" text-anchor="end" class="t">1</text>
<text x="62.8" y="303.0" class="m">&#8211;</text>
<text x="99.4" y="237.9" text-anchor="end" class="t">0</text>
<text x="99.4" y="169.1" text-anchor="end" class="t">1</text>
<text x="99.4" y="100.4" text-anchor="end" class="t">2</text>
<text x="99.4" y="30.4" text-anchor="end" class="t">3</text>
<text x="139.9" y="841.6" text-anchor="middle" class="tx">0</text>
<text x="313.8" y="841.6" text-anchor="middle" class="tx">0.2</text>
<text x="487.7" y="841.6" text-anchor="middle" class="tx">0.4</text>
<text x="661.7" y="841.6" text-anchor="middle" class="tx">0.6</text>
<text x="835.6" y="841.6" text-anchor="middle" class="tx">0.8</text>
<text x="1009.5" y="841.6" text-anchor="middle" class="tx">1</text>

<g stroke-width="9.3" stroke-linecap="round" fill="none">
<path d="M333.3,360.7 H373.3" stroke="#5B9BD5"/>
<path d="M333.3,469.7 H373.3" stroke="#ED7D31"/>
<path d="M333.3,578.9 H373.3" stroke="#A5A5A5"/>
<path d="M333.3,687.7 H373.3" stroke="#FFC000"/>
</g>
<text x="391" y="375.3" class="lg">GCE</text>
<text x="385.2" y="482.3" class="lg">CuWO<tspan class="sub" dy="4.5">4</tspan><tspan dy="-4.5">/GCE</tspan></text>
<text x="385.2" y="593.6" class="lg">CeVO<tspan class="sub" dy="4.5">4</tspan><tspan dy="-4.5">/GCE</tspan></text>
<text x="384.6" y="700.5" class="lg">CeVO<tspan class="sub" dy="4.5">4</tspan><tspan dy="-4.5">-CuWO</tspan><tspan class="sub" dy="4.5">4</tspan><tspan dy="-4.5">/GCE</tspan></text>
<text x="576" y="884" text-anchor="middle" class="ti">E/V</text>
<text transform="translate(43,392.6) rotate(-90)" text-anchor="middle" class="ti">I/&#956;A</text>

</svg>
</body></html>
